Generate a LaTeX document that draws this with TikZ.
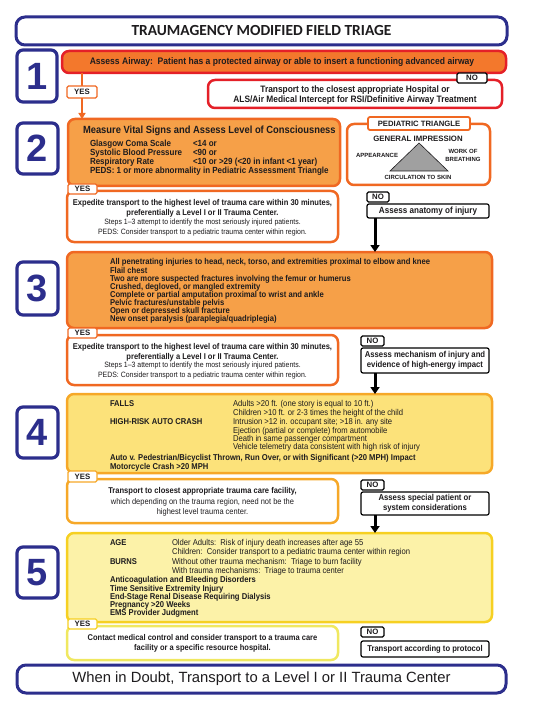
\documentclass[tikz,border=0pt]{standalone}
\usepackage{fontspec}
\setmainfont{Liberation Sans}[FakeStretch=0.9]
\newfontfamily\wide{Liberation Sans}
\newfontfamily\titlefont{Carlito}
\usetikzlibrary{fit,arrows.meta}
\definecolor{navy}{RGB}{44,46,140}
\definecolor{ink}{RGB}{30,28,30}
\definecolor{redB}{RGB}{228,32,40}
\definecolor{orangeA}{RGB}{243,120,44}
\definecolor{orangeF}{RGB}{246,160,72}
\definecolor{orangeB}{RGB}{240,104,34}
\definecolor{yelF}{RGB}{252,226,122}
\definecolor{goldB}{RGB}{246,168,40}
\definecolor{paleF}{RGB}{252,242,168}
\definecolor{yelB}{RGB}{246,208,34}
\definecolor{contB}{RGB}{240,232,96}
\definecolor{trigray}{RGB}{160,160,160}
\newcommand\fs[2]{\fontsize{#1}{#2}\selectfont}
\begin{document}
\begin{tikzpicture}[x=1pt,y=-1pt,
  every node/.style={inner sep=0pt, outer sep=0pt, text=ink},
  box/.style={rounded corners=7pt, line width=2.5pt},
  navbox/.style={draw=navy, line width=3pt, rounded corners=9pt, fill=white},
  numbox/.style={draw=navy, line width=3.2pt, rounded corners=6pt, fill=white},
  numtxt/.style={text=navy, font=\wide\bfseries\fs{38}{38}},
  tagbox/.style={draw=black, line width=1.2pt, fill=white, rounded corners=1.5pt},
  tagtxt/.style={font=\wide\bfseries\fs{7.8}{7.8}},
  nbox/.style={draw=black, line width=1.2pt, fill=white, rounded corners=2pt},
  oarrow/.style={draw=orangeB, line width=2pt, -{Triangle[length=6pt,width=7pt]}},
  barrow/.style={draw=black, line width=3pt, -{Triangle[length=7pt,width=9pt]}},
]
\useasboundingbox (0,0) rectangle (550,711);

% ---------- title ----------
\node[navbox, fit={(16,17) (507,45)}] (title) {};
\node[font=\titlefont\bfseries\fs{15.4}{15.4}] (titlet) at (261.5,31) {TRAUMAGENCY MODIFIED FIELD TRIAGE};

% ---------- number boxes ----------
\node[numbox, fit={(17,50) (57,102)}] (n1) {};
\node[numbox, fit={(17,123) (58,174)}] (n2) {};
\node[numbox, fit={(17,262) (58,315)}] (n3) {};
\node[numbox, fit={(17,407) (58,458)}] (n4) {};
\node[numbox, fit={(17,547) (58,598)}] (n5) {};
\node[numtxt] (n1t) at (n1.center) {1};
\node[numtxt] (n2t) at (n2.center) {2};
\node[numtxt] (n3t) at (n3.center) {3};
\node[numtxt] (n4t) at (n4.center) {4};
\node[numtxt] (n5t) at (n5.center) {5};

% ---------- boxes ----------
\node[box, draw=redB, fill=orangeA, fit={(62,51) (506,73)}] (s1) {};
\node[box, draw=redB, fill=white, fit={(208,80) (502,108)}] (tr1) {};

\node[box, draw=orangeB, fill=orangeF, fit={(68,119) (340,186)}] (s2) {};
\node[box, draw=orangeB, fill=white, fit={(347,124) (490,185)}] (ped) {};
\node[box, draw=orangeB, fill=white, fit={(67,191) (338,242)}] (ex2) {};
\node[nbox, fit={(367,204) (489,218)}] (anat) {};

\node[box, draw=orangeB, fill=orangeF, fit={(67,252) (492,328)}] (s3) {};
\node[box, draw=orangeB, fill=white, fit={(67,335) (338,385)}] (ex3) {};
\node[nbox, fit={(361,348) (489,373)}] (mech) {};

\node[box, draw=goldB, fill=yelF, fit={(67,394) (492,473)}] (s4) {};
\node[box, draw=goldB, fill=white, fit={(67,479) (338,523)}] (tr4) {};
\node[nbox, fit={(361,492) (489,515)}] (spec) {};

\node[box, draw=yelB, fill=paleF, fit={(67,533) (492,622)}] (s5) {};
\node[box, draw=contB, fill=white, fit={(67,626) (338,660)}] (cont) {};
\node[nbox, fit={(361,641) (489,657)}] (proto) {};

\node[navbox, fit={(17,665) (506,693)}] (foot) {};

% ---------- connectors ----------
\coordinate (cy) at (82,0);
\coordinate (ax) at (375,0);
\draw[oarrow] (s1.south -| cy) -- (s2.north -| cy);
\draw[barrow] (anat.south -| ax) -- (s3.north -| ax);
\draw[barrow] (mech.south -| ax) -- (s4.north -| ax);
\draw[barrow] (spec.south -| ax) -- (s5.north -| ax);

% ---------- tags ----------
\node[tagbox, fit={(457,73) (487,83)}] (no1) {};
\node[tagbox, draw=orangeB, fit={(67,86) (97,98)}] (yes1) {};
\node[tagbox, draw=orangeB, fit={(68,184) (97,194)}] (yes2) {};
\node[tagbox, fit={(367,192) (389,202)}] (no2) {};
\node[tagbox, draw=orangeB, fit={(68,328) (97,338)}] (yes3) {};
\node[tagbox, fit={(361,336) (384,346)}] (no3) {};
\node[tagbox, draw=goldB, fit={(68,471) (97,482)}] (yes4) {};
\node[tagbox, fit={(361,480) (384,490)}] (no4) {};
\node[tagbox, draw=yelB, fit={(68,619) (97,629)}] (yes5) {};
\node[tagbox, fit={(361,627) (384,637)}] (no5) {};
\node[tagbox, draw=orangeB, line width=1.8pt, rounded corners=2pt, fit={(368,117) (470,130)}] (pedl) {};
\node[tagtxt] (no1t) at (no1.center) {NO};
\node[tagtxt] (yes1t) at (yes1.center) {YES};
\node[tagtxt] (yes2t) at (yes2.center) {YES};
\node[tagtxt] (no2t) at (no2.center) {NO};
\node[tagtxt] (yes3t) at (yes3.center) {YES};
\node[tagtxt] (no3t) at (no3.center) {NO};
\node[tagtxt] (yes4t) at (yes4.center) {YES};
\node[tagtxt] (no4t) at (no4.center) {NO};
\node[tagtxt] (yes5t) at (yes5.center) {YES};
\node[tagtxt] (no5t) at (no5.center) {NO};
\node[font=\wide\bfseries\fs{7.7}{7.7}] (pedlt) at (pedl.center) {PEDIATRIC TRIANGLE};

% ---------- step 1 text ----------
\node[font=\bfseries\fs{9.5}{9.5}] (s1t) at (282,62) {Assess Airway:\ \ Patient has a protected airway or able to insert a functioning advanced airway};
\node[align=center, font=\bfseries\fs{9.3}{10}] (tr1t) at (355,95) {Transport to the closest appropriate Hospital or\\ALS/Air Medical Intercept for RSI/Definitive Airway Treatment};

% ---------- step 2 text ----------
\node[anchor=base west, font=\bfseries\fs{10.4}{10.4}] (s2h) at (83,133.7) {Measure Vital Signs and Assess Level of Consciousness};
\node[anchor=base west, align=left, font=\bfseries\fs{8.9}{9.3}] (s2l) at (90,174) {Glasgow Coma Scale\\Systolic Blood Pressure\\Respiratory Rate\\PEDS: 1 or more abnormality in Pediatric Assessment Triangle};
\node[anchor=base west, align=left, font=\bfseries\fs{8.9}{9.3}] (s2v) at (193,164.7) {<14 or\\<90 or\\<10 or >29 (<20 in infant <1 year)};

% pediatric triangle
\node[font=\wide\bfseries\fs{7.8}{7.8}] (gi) at (418,139) {GENERAL IMPRESSION};
\draw[draw=ink, fill=trigray, line width=0.6pt] (419,143) -- (390,171) -- (448,171) -- cycle;
\node[font=\wide\bfseries\fs{6}{6}] (app) at (377,155) {APPEARANCE};
\node[align=center, font=\wide\bfseries\fs{6}{8.6}] (wob) at (463,155.5) {WORK OF\\BREATHING};
\node[font=\wide\bfseries\fs{6}{6}] (circ) at (418,177) {CIRCULATION TO SKIN};

% expedite 2
\node[align=center, font=\bfseries\fs{8.4}{10}] (ex2a) at (202.5,208) {Expedite transport to the highest level of trauma care within 30 minutes,\\preferentially a Level I or II Trauma Center.};
\node[align=center, font=\fs{7.7}{10}] (ex2b) at (202.5,228) {Steps 1--3 attempt to identify the most seriously injured patients.\\PEDS: Consider transport to a pediatric trauma center within region.};
\node[font=\bfseries\fs{9}{9}] (anatt) at (anat.center) {Assess anatomy of injury};

% ---------- step 3 text ----------
\node[anchor=base west, align=left, font=\bfseries\fs{8.5}{8.1}] (s3t) at (110,321.6) {All penetrating injuries to head, neck, torso, and extremities proximal to elbow and knee\\Flail chest\\Two are more suspected fractures involving the femur or humerus\\Crushed, degloved, or mangled extremity\\Complete or partial amputation proximal to wrist and ankle\\Pelvic fractures/unstable pelvis\\Open or depressed skull fracture\\New onset paralysis (paraplegia/quadriplegia)};
\node[align=center, font=\bfseries\fs{8.4}{10}] (ex3a) at (202.5,352) {Expedite transport to the highest level of trauma care within 30 minutes,\\preferentially a Level I or II Trauma Center.};
\node[align=center, font=\fs{7.7}{9.5}] (ex3b) at (202.5,370.5) {Steps 1--3 attempt to identify the most seriously injured patients.\\PEDS: Consider transport to a pediatric trauma center within region.};
\node[align=center, font=\bfseries\fs{8.6}{9.6}] (mecht) at (mech.center) {Assess mechanism of injury and\\evidence of high-energy impact};

% ---------- step 4 text ----------
\node[anchor=base west, font=\bfseries\fs{8.45}{8.2}] (falls) at (110,406.9) {FALLS};
\node[anchor=base west, align=left, font=\fs{8.5}{8.2}] (fallsv) at (233,415.1) {Adults >20 ft. (one story is equal to 10 ft.)\\Children >10 ft. or 2-3 times the height of the child};
\node[anchor=base west, font=\bfseries\fs{8.45}{8.2}] (auto) at (110,424.9) {HIGH-RISK AUTO CRASH};
\node[anchor=base west, align=left, font=\fs{8.5}{8.3}] (autov) at (233,449.8) {Intrusion >12 in. occupant site; >18 in. any site\\Ejection (partial or complete) from automobile\\Death in same passenger compartment\\Vehicle telemetry data consistent with high risk of injury};
\node[anchor=base west, align=left, font=\bfseries\fs{8.5}{8.2}] (ped4) at (110,469.1) {Auto v. Pedestrian/Bicyclist Thrown, Run Over, or with Significant (>20 MPH) Impact\\Motorcycle Crash >20 MPH};
\node[font=\bfseries\fs{8.4}{8.4}] (tr4a) at (202.5,491) {Transport to closest appropriate trauma care facility,};
\node[align=center, font=\fs{8.3}{10}] (tr4b) at (202.5,507) {which depending on the trauma region, need not be the\\highest level trauma center.};
\node[align=center, font=\bfseries\fs{8.6}{9.6}] (spect) at (spec.center) {Assess special patient or\\system considerations};

% ---------- step 5 text ----------
\node[anchor=base west, font=\bfseries\fs{8.45}{8.2}] (age) at (110,545.9) {AGE};
\node[anchor=base west, align=left, font=\fs{8.5}{8.2}] (agev) at (172,554.1) {Older Adults:\ \ Risk of injury death increases after age 55\\Children:\ \ Consider transport to a pediatric trauma center within region};
\node[anchor=base west, font=\bfseries\fs{8.45}{8.2}] (burn) at (110,564.9) {BURNS};
\node[anchor=base west, align=left, font=\fs{8.5}{8.2}] (burnv) at (172,573.1) {Without other trauma mechanism:\ \ Triage to burn facility\\With trauma mechanisms:\ \ Triage to trauma center};
\node[anchor=base west, align=left, font=\bfseries\fs{8.5}{8.25}] (s5l) at (110,615.9) {Anticoagulation and Bleeding Disorders\\Time Sensitive Extremity Injury\\End-Stage Renal Disease Requiring Dialysis\\Pregnancy >20 Weeks\\EMS Provider Judgment};
\node[align=center, font=\bfseries\fs{8.35}{10}] (contt) at (202.5,643) {Contact medical control and consider transport to a trauma care\\facility or a specific resource hospital.};
\node[font=\bfseries\fs{8.45}{8.45}] (protot) at (proto.center) {Transport according to protocol};

% ---------- footer ----------
\node[font=\wide\fs{14.8}{14.8}] (foott) at (261.5,679) {When in Doubt, Transport to a Level I or II Trauma Center};
\end{tikzpicture}
\end{document}
